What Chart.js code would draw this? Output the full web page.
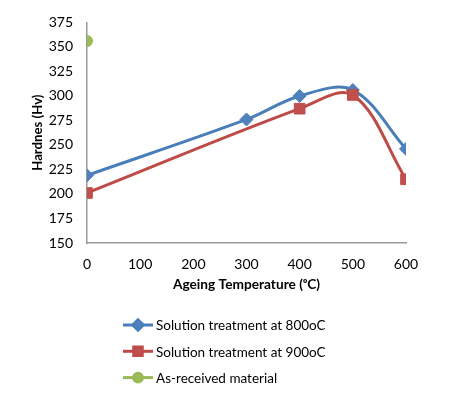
<!DOCTYPE html>
<html>
<head>
<meta charset="utf-8">
<script src="https://cdn.jsdelivr.net/npm/chart.js@4/dist/chart.umd.min.js"></script>
<style>
html,body{margin:0;padding:0;background:#fff;}
#wrap{width:474px;height:397px;position:relative;}
</style>
</head>
<body>
<div id="wrap"><canvas id="c" width="474" height="397"></canvas></div>
<script>
// Data
const seriesNames = ['Solution treatment at 800oC', 'Solution treatment at 900oC', 'As-received material'];
const temps800 = [0, 300, 400, 500, 600];
const hard800  = [219, 276, 300, 306, 246];
const temps900 = [0, 400, 500, 600];
const hard900  = [201, 287, 301, 215];
const tempsRaw = [0];
const hardRaw  = [356];
const xTickRange = [0, 600, 100];
const yTickRange = [150, 375, 25];
const xTitle = 'Ageing Temperature (\u1d52C)';
const yTitle = 'Hardnes (Hv)';

const FONT = 'Lato, "Liberation Sans", sans-serif';
const toXY = (xs, ys) => xs.map((x, i) => ({x: x, y: ys[i]}));

const vLegend = {
  id: 'vLegend',
  afterDraw(chart) {
    const ctx = chart.ctx;
    const x0 = 123, x1 = 153, tx = 156, y0 = 325, dy = 26.3;
    chart.data.datasets.forEach((ds, i) => {
      const y = y0 + i * dy;
      ctx.save();
      ctx.strokeStyle = ds.borderColor;
      ctx.lineWidth = 3;
      ctx.beginPath(); ctx.moveTo(x0, y); ctx.lineTo(x1, y); ctx.stroke();
      ctx.fillStyle = ds.pointBackgroundColor;
      ctx.strokeStyle = ds.pointBorderColor;
      Chart.helpers.drawPoint(ctx, {pointStyle: ds.pointStyle, radius: ds.pointRadius * 0.8, borderWidth: 1, rotation: 0}, (x0 + x1) / 2, y);
      ctx.fillStyle = '#000';
      ctx.font = '13.5px ' + FONT;
      ctx.textBaseline = 'middle';
      ctx.textAlign = 'left';
      ctx.fillText(ds.label, tx, y + 1);
      ctx.restore();
    });
  }
};

new Chart(document.getElementById('c'), {
  type: 'line',
  data: {
    datasets: [
      {
        label: seriesNames[0], data: toXY(temps800, hard800),
        borderColor: '#4A7EBB', borderWidth: 3, tension: 0.35,
        pointStyle: 'rectRot', pointRadius: 6.5,
        pointBackgroundColor: '#4F81BD', pointBorderColor: '#4A7EBB', pointBorderWidth: 1,
        order: 1
      },
      {
        label: seriesNames[1], data: toXY(temps900, hard900),
        borderColor: '#BE4B48', borderWidth: 3, tension: 0.35,
        pointStyle: 'rect', pointRadius: 7.5,
        pointBackgroundColor: '#C0504D', pointBorderColor: '#BE4B48', pointBorderWidth: 1,
        order: 0
      },
      {
        label: seriesNames[2], data: toXY(tempsRaw, hardRaw),
        borderColor: '#98B954', borderWidth: 3, showLine: false,
        pointStyle: 'circle', pointRadius: 5.5,
        pointBackgroundColor: '#9BBB59', pointBorderColor: '#98B954', pointBorderWidth: 1,
        order: 2
      }
    ]
  },
  options: {
    responsive: false,
    animation: false,
    layout: {padding: {left: 0, right: 68, top: 22, bottom: 104}},
    plugins: {legend: {display: false}, tooltip: {enabled: false}},
    scales: {
      x: {
        type: 'linear', min: xTickRange[0], max: xTickRange[1],
        ticks: {stepSize: xTickRange[2], padding: 13, color: '#000', font: {family: FONT, size: 14}},
        grid: {display: false, drawTicks: false},
        border: {display: true, color: '#999', width: 1.5},
        title: {display: true, text: xTitle, color: '#000', padding: {top: 0, bottom: 0}, font: {family: FONT, size: 13.7, weight: 'bold'}},
        afterFit: s => { s.height = 50; }
      },
      y: {
        min: yTickRange[0], max: yTickRange[1],
        ticks: {stepSize: yTickRange[2], padding: 14, color: '#000', font: {family: FONT, size: 14}},
        grid: {display: false, drawTicks: false},
        border: {display: true, color: '#999', width: 1.5},
        title: {display: true, text: yTitle, color: '#000', padding: {top: 30, bottom: 0}, font: {family: FONT, size: 13.2, weight: 'bold'}},
        afterFit: s => { s.width = 87; }
      }
    }
  },
  plugins: [vLegend]
});
</script>
</body>
</html>
